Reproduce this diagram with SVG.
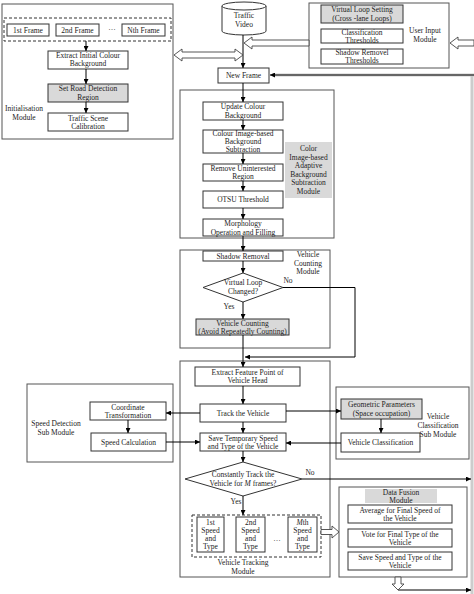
<svg xmlns="http://www.w3.org/2000/svg" width="474" height="594" viewBox="0 0 474 594">
<defs>
<marker id="ah" viewBox="0 0 10 10" refX="10" refY="5" markerWidth="5" markerHeight="5" orient="auto-start-reverse" markerUnits="userSpaceOnUse"><path d="M0,0 L10,5 L0,10 z" fill="#000"/></marker>
</defs>
<style>
text{font-family:"Liberation Serif","Times New Roman",serif;font-size:7.5px;fill:#222;text-anchor:middle}
.b{fill:#fff;stroke:#333;stroke-width:1}
.g{fill:#d9d9d9;stroke:#333;stroke-width:1}
.m{fill:#fff;stroke:#555;stroke-width:1}
.d{fill:none;stroke:#333;stroke-width:1;stroke-dasharray:3,2}
.l{fill:none;stroke:#000;stroke-width:1}
.la{fill:none;stroke:#000;stroke-width:1;marker-end:url(#ah)}
.h{fill:#fff;stroke:#444;stroke-width:0.9}
.r{fill:none;stroke:#ccc;stroke-width:3}
</style>
<rect width="474" height="594" fill="#fff"/>

<g id="init">
<rect class="m" x="2" y="4" width="171" height="135"/>
<rect class="d" x="4" y="18" width="167" height="23"/>
<rect class="b" x="7" y="24" width="42" height="12"/><text x="28" y="32.5">1st Frame</text>
<rect class="b" x="56" y="24" width="43" height="12"/><text x="77.5" y="32.5">2nd Frame</text>
<text x="112" y="32">···</text>
<rect class="b" x="122" y="24" width="43" height="12"/><text x="143.5" y="32.5">Nth Frame</text>
<rect class="b" x="48" y="51" width="80" height="18"/><text x="88" y="58">Extract Initial Colour</text><text x="88" y="66">Background</text>
<rect class="g" x="48" y="84" width="80" height="18"/><text x="88" y="91">Set Road Detection</text><text x="88" y="99.5">Region</text>
<rect class="b" x="48" y="113" width="80" height="18"/><text x="88" y="120.5">Traffic Scene</text><text x="88" y="128.5">Calibration</text>
<text x="24" y="111">Initialisation</text><text x="24" y="120">Module</text>
</g>

<g id="video">
<path class="b" d="M222,6 L222,31 A22,4 0 0 0 266,31 L266,6"/>
<ellipse class="b" cx="244" cy="6" rx="22" ry="4"/>
<text x="244" y="18">Traffic</text><text x="244" y="27">Video</text>
</g>

<g id="userinput">
<rect class="m" x="309" y="3" width="140" height="65"/>
<rect class="g" x="321" y="5" width="82" height="18"/><text x="362" y="12">Virtual Loop Setting</text><text x="362" y="20.5">(Cross -lane Loops)</text>
<rect class="b" x="321" y="29" width="82" height="14"/><text x="362" y="34.5">Classification</text><text x="362" y="42.5">Thresholds</text>
<rect class="b" x="321" y="49" width="82" height="15"/><text x="362" y="55">Shadow Removel</text><text x="362" y="63">Thresholds</text>
<text x="425" y="33">User Input</text><text x="425" y="42">Module</text>
</g>

<g id="newframe">
<rect class="b" x="218" y="68" width="51" height="15"/><text x="243.5" y="78">New Frame</text>
</g>

<g id="adaptive">
<rect class="m" x="180" y="90" width="154" height="148"/>
<rect class="b" x="203" y="102" width="80" height="18"/><text x="243" y="109">Update Colour</text><text x="243" y="117.5">Background</text>
<rect class="b" x="203" y="130" width="80" height="23"/><text x="243" y="136">Colour Image-based</text><text x="243" y="144">Background</text><text x="243" y="152">Subtraction</text>
<rect class="b" x="203" y="164" width="80" height="17"/><text x="243" y="171">Remove Uninterested</text><text x="243" y="179">Region</text>
<rect class="b" x="203" y="191" width="80" height="17"/><text x="243" y="202">OTSU Threshold</text>
<rect class="b" x="203" y="219" width="80" height="17"/><text x="243" y="226">Morphology</text><text x="243" y="234.5">Operation and Filling</text>
<rect x="285" y="142" width="47" height="56" fill="#d9d9d9"/>
<text x="308.5" y="151">Color</text><text x="308.5" y="159.5">Image-based</text><text x="308.5" y="168">Adaptive</text><text x="308.5" y="176.5">Background</text><text x="308.5" y="185">Subtraction</text><text x="308.5" y="193.5">Module</text>
</g>

<g id="counting">
<rect class="m" x="180" y="250" width="150" height="98"/>
<rect class="b" x="203" y="251" width="80" height="10"/><text x="243" y="258.5">Shadow Removal</text>
<text x="308" y="257">Vehicle</text><text x="308" y="265.5">Counting</text><text x="308" y="274">Module</text>
<polygon class="b" points="243,273 283,287.5 243,302 203,287.5"/>
<text x="243" y="285">Virtual Loop</text><text x="243" y="294">Changed?</text>
<text x="288" y="283">No</text>
<text x="229" y="309">Yes</text>
<rect class="g" x="196" y="319" width="93" height="16"/><text x="242.5" y="325.5">Vehicle Counting</text><text x="242.5" y="333.5">(Avoid Repeatedly Counting)</text>
</g>

<g id="tracking">
<rect class="m" x="180" y="361" width="150" height="216"/>
<rect class="b" x="195" y="367" width="105" height="19"/><text x="247.5" y="374.5">Extract Feature Point of</text><text x="247.5" y="383">Vehicle Head</text>
<rect class="b" x="200" y="404" width="86" height="18"/><text x="243" y="415.5">Track the Vehicle</text>
<rect class="b" x="200" y="433" width="86" height="18"/><text x="243" y="440.5">Save Temporary Speed</text><text x="243" y="449">and Type of the Vehicle</text>
<polygon class="b" points="243,462 302,479 243,496 185,479"/>
<text x="243" y="477">Constantly Track the</text><text x="243" y="486">Vehicle for <tspan font-style="italic">M</tspan> frames?</text>
<text x="310" y="475">No</text>
<text x="236" y="504">Yes</text>
<rect class="d" x="192" y="515" width="129" height="42"/>
<rect class="b" x="197" y="517" width="27" height="35"/><text x="210.5" y="525">1st</text><text x="210.5" y="533">Speed</text><text x="210.5" y="541">and</text><text x="210.5" y="549">Type</text>
<rect class="b" x="236" y="517" width="29" height="35"/><text x="250.5" y="525">2nd</text><text x="250.5" y="533">Speed</text><text x="250.5" y="541">and</text><text x="250.5" y="549">Type</text>
<text x="277" y="543">···</text>
<rect class="b" x="288" y="517" width="29" height="35"/><text x="302.5" y="525"><tspan font-style="italic">M</tspan>th</text><text x="302.5" y="533">Speed</text><text x="302.5" y="541">and</text><text x="302.5" y="549">Type</text>
<text x="243" y="565">Vehicle Tracking</text><text x="243" y="574">Module</text>
</g>

<g id="speed">
<rect class="m" x="27" y="384" width="146" height="78"/>
<rect class="b" x="90" y="402" width="76" height="18"/><text x="128" y="409.5">Coordinate</text><text x="128" y="418">Transformation</text>
<rect class="b" x="91" y="433" width="75" height="18"/><text x="128.5" y="444.5">Speed Calculation</text>
<text x="56" y="426">Speed Detection</text><text x="56" y="435">Sub Module</text>
</g>

<g id="classification">
<rect class="m" x="336" y="387" width="133" height="72"/>
<rect class="g" x="341" y="399" width="81" height="20"/><text x="381.5" y="407">Geometric Parameters</text><text x="381.5" y="415.5">(Space occupation)</text>
<rect class="b" x="341" y="433" width="79" height="19"/><text x="380.5" y="445">Vehicle Classification</text>
<text x="438" y="419">Vehicle</text><text x="438" y="428">Classification</text><text x="438" y="437">Sub Module</text>
</g>

<g id="fusion">
<rect class="m" x="339" y="487" width="128" height="90"/>
<rect x="365" y="489" width="72" height="14" fill="#d9d9d9"/>
<text x="401" y="495">Data Fusion</text><text x="401" y="503">Module</text>
<rect class="b" x="348" y="505" width="104" height="18"/><text x="400" y="512.5">Average for Final Speed of</text><text x="400" y="521">the Vehicle</text>
<rect class="b" x="348" y="529" width="104" height="18"/><text x="400" y="536.5">Vote for Final Type of the</text><text x="400" y="545">Vehicle</text>
<rect class="b" x="348" y="552" width="104" height="18"/><text x="400" y="559.5">Save Speed and Type of the</text><text x="400" y="568">Vehicle</text>
</g>

<g id="connectors">
<line class="r" x1="472" y1="75" x2="472" y2="594"/>
<line class="r" x1="272" y1="75" x2="474" y2="75"/>
<line class="la" x1="474" y1="75" x2="270" y2="75"/>
<line class="la" x1="86" y1="41" x2="86" y2="51"/>
<line class="la" x1="86" y1="69" x2="86" y2="84"/>
<line class="la" x1="86" y1="102" x2="86" y2="113"/>
<line class="la" x1="243" y1="35" x2="243" y2="68"/>
<line class="la" x1="243" y1="83" x2="243" y2="102"/>
<line class="la" x1="243" y1="120" x2="243" y2="130"/>
<line class="la" x1="243" y1="153" x2="243" y2="164"/>
<line class="la" x1="243" y1="181" x2="243" y2="191"/>
<line class="la" x1="243" y1="208" x2="243" y2="219"/>
<line class="la" x1="243" y1="236" x2="243" y2="251"/>
<line class="la" x1="243" y1="261" x2="243" y2="273"/>
<line class="la" x1="243" y1="302" x2="243" y2="319"/>
<line class="la" x1="243" y1="335" x2="243" y2="367"/>
<polyline class="la" points="283,287.5 355,287.5 355,357 245,357"/>
<line class="la" x1="243" y1="386" x2="243" y2="404"/>
<line class="la" x1="243" y1="422" x2="243" y2="433"/>
<line class="la" x1="243" y1="451" x2="243" y2="462"/>
<line class="la" x1="243" y1="496" x2="243" y2="515"/>
<line class="la" x1="302" y1="479" x2="471" y2="479"/>
<line class="la" x1="200" y1="413" x2="166" y2="413"/>
<line class="la" x1="128" y1="420" x2="128" y2="433"/>
<line class="la" x1="166" y1="442" x2="200" y2="442"/>
<line class="la" x1="286" y1="411" x2="341" y2="411"/>
<line class="la" x1="381" y1="419" x2="381" y2="433"/>
<line class="la" x1="341" y1="443" x2="286" y2="443"/>
<line class="la" x1="398" y1="590" x2="471" y2="590"/>
<polygon class="h" points="244,43 252,37 252,40 309,40 309,46 252,46 252,49"/>
<polygon class="h" points="450,43 458,37 458,40 474,40 474,46 458,46 458,49"/>
<polygon class="h" points="174,55 182,49 182,52 235,52 235,49 243,55 235,61 235,58 182,58 182,61"/>
<polygon class="h" points="339,532 332,526 332,529.5 321,529.5 321,534.5 332,534.5 332,538"/>
<polygon class="h" points="398,590 392,584 395,584 395,577 401,577 401,584 404,584"/>
</g>
</svg>
